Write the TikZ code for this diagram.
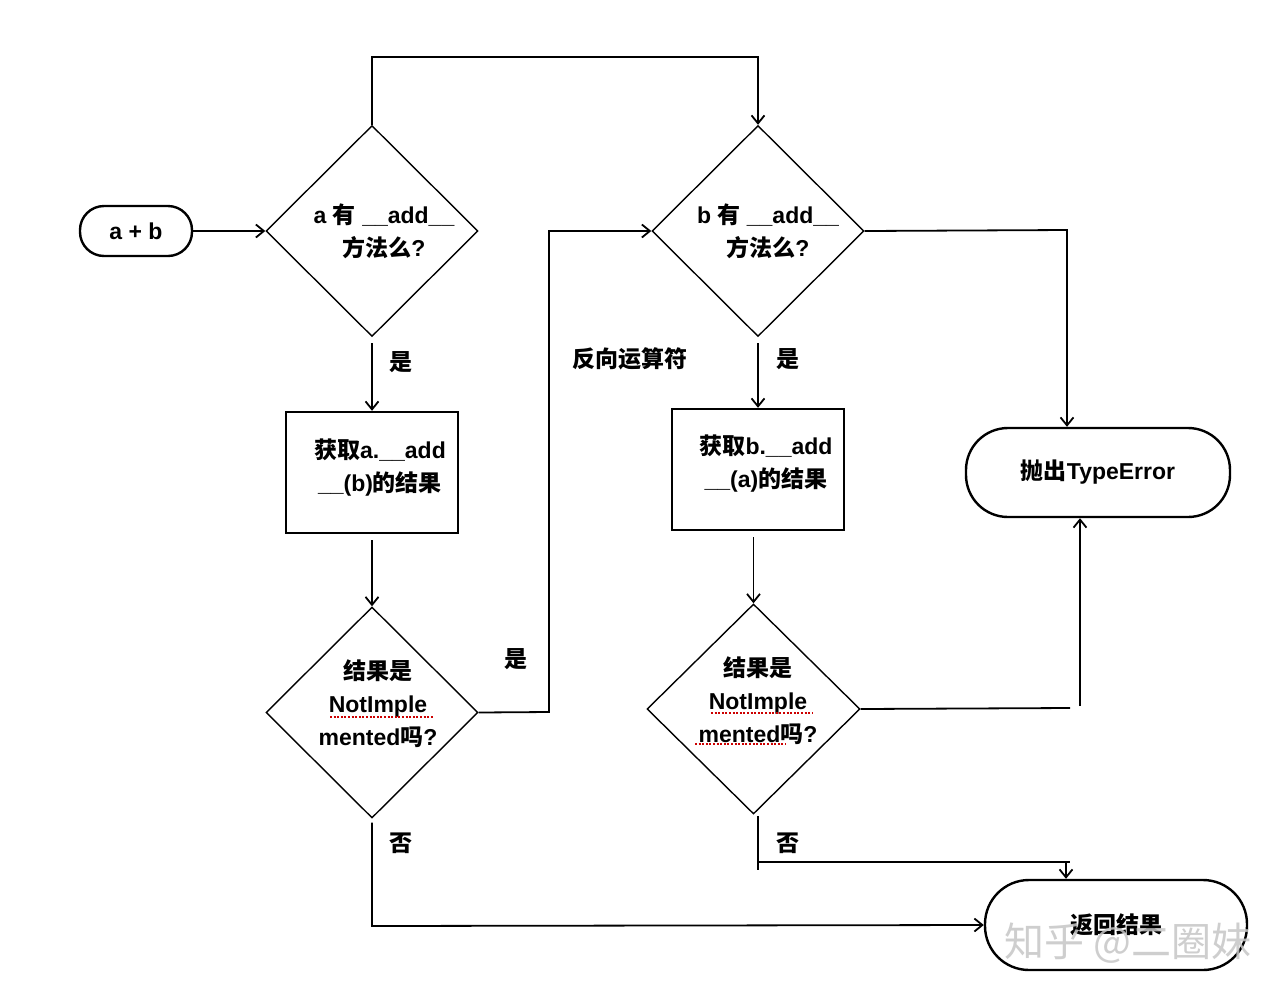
\documentclass[tikz,border=0pt]{standalone}
\usepackage{fontspec}
\setmainfont{Liberation Sans}
\newfontfamily\cjk{Noto Sans CJK SC}
\usetikzlibrary{shapes.geometric,arrows.meta,calc}
\newcommand\zh[1]{{\cjk\bfseries #1}}
\tikzset{
  conn/.style={line width=1.8pt},
  arr/.style={conn, -{Straight Barb[length=8pt,width=13pt]}},
  dec/.style={diamond, draw, line width=1.4pt, minimum width=212pt, minimum height=211pt, inner sep=0pt},
  procbox/.style={rectangle, draw, line width=2.4pt, minimum width=172pt, minimum height=121pt},
  term/.style={rectangle, draw, line width=2.4pt, font=\bfseries\fontsize{23}{33}\selectfont},
  txt/.style={font=\bfseries\fontsize{23}{33}\selectfont, align=center, inner sep=0pt},
  spell/.style={red!80!black, line width=1.3pt, dash pattern=on 2pt off 1.6pt}
}
\begin{document}
\begin{tikzpicture}[x=1pt,y=-1pt]
\useasboundingbox[fill=white] (0,0) rectangle (1278,994);
% shapes
\node[term, rounded corners=24pt, minimum width=112pt, minimum height=50pt] (start) at (136,231) {a + b};
\node[dec] (d1) at (372,231) {};
\node[txt] (t1) at (384,231) {a \zh{有} \_\_add\_\_\\\zh{方法么}?};
\node[dec] (d2) at (758,231) {};
\node[txt] (t2) at (768,231) {b \zh{有} \_\_add\_\_\\\zh{方法么}?};
\node[procbox] (b1) at (372,472.5) {};
\node[txt] (tb1) at (380,468) {\zh{获取}a.\_\_add\\\_\_(b)\zh{的结果}};
\node[procbox] (b2) at (758,469.5) {};
\node[txt] (tb2) at (766,464) {\zh{获取}b.\_\_add\\\_\_(a)\zh{的结果}};
\node[dec] (d3) at (372,712.5) {};
\node[txt] (t3) at (378,704) {\zh{结果是}\\NotImple\\mented\zh{吗}?};
\node[dec, minimum width=213pt, minimum height=210pt] (d4) at (753.5,709) {};
\node[txt] (t4) at (758,701) {\zh{结果是}\\NotImple\\mented\zh{吗}?};
\node[term, rounded corners=42pt, minimum width=264pt, minimum height=89pt] (err) at (1098,472.5) {\zh{抛出}TypeError};
\node[term, rounded corners=44pt, minimum width=262pt, minimum height=90pt] (ret) at (1116,925) {\zh{返回结果}};
% spell-check marks
\draw[spell] (330,717) -- (433,717);
\draw[spell] (711,713) -- (813,713);
\draw[spell] (695,744) -- (786,744);
% labels
\node[txt] (l1) at (401,362) {\zh{是}};
\node[txt] (l2) at (516,659) {\zh{是}};
\node[txt] (l3) at (788,359) {\zh{是}};
\node[txt] (l4) at (630,359) {\zh{反向运算符}};
\node[txt] (l5) at (401,843) {\zh{否}};
\node[txt] (l6) at (788,843) {\zh{否}};
% coordinates
\coordinate (c1) at (372,57);
\coordinate (c2) at (758,57);
\coordinate (c3) at (549,712);
\coordinate (c4) at (549,231);
\coordinate (c5) at (1067,230);
\coordinate (c6) at (1070,708);
\coordinate (c7) at (1080,706);
\coordinate (c8) at (758,816);
\coordinate (c9) at (758,870);
\coordinate (c10) at (758,862);
\coordinate (c11) at (1070,862);
\coordinate (c12) at (1066,862);
\coordinate (c13) at (372,926);
% connectors
\draw[arr] (start.east) -- (d1.west);
\draw[arr] (d1.north) -- (c1) -- (c2) -- (d2.north);
\draw[arr, shorten <=6pt] (d1.south) -- (b1.north);
\draw[arr, shorten <=6pt] (b1.south) -- (d3.north);
\draw[arr] (d3.east) -- (c3) -- (c4) -- (d2.west);
\draw[arr] (d2.east) -- (c5) -- (c5 |- err.north);
\draw[arr, shorten <=6pt] (d2.south) -- (b2.north);
\draw[arr, shorten <=6pt] (d4.north |- b2.south) -- (d4.north);
\draw[conn] (d4.east) -- (c6);
\draw[arr] (c7) -- (c7 |- err.south);
\draw[conn] (c8) -- (c9);
\draw[conn] (c10) -- (c11);
\draw[arr] (c12) -- (c12 |- ret.north);
\draw[arr, shorten <=4pt] (d3.south) -- (c13) -- (ret.west);
% watermark
\node[font=\cjk\fontsize{40}{40}\selectfont, text=gray!45, opacity=0.85, inner sep=0pt] (wm) at (1128,943) {知乎 @二圈妹};
\end{tikzpicture}
\end{document}
